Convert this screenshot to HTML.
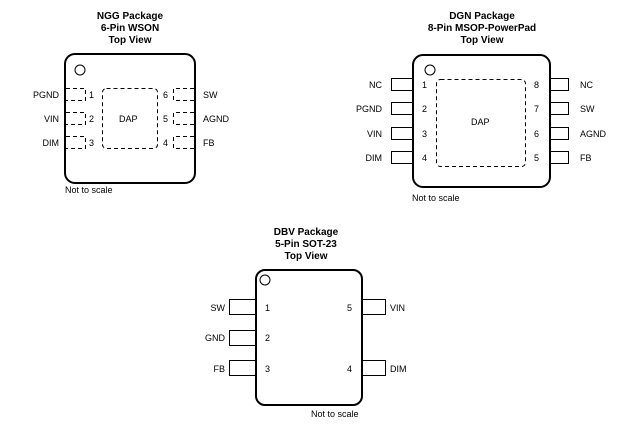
<!DOCTYPE html>
<html><head><style>
html,body{margin:0;padding:0;background:#fff;}
svg{display:block;}
text{font-family:"Liberation Sans",Arial,sans-serif;font-size:9px;fill:#000;}
.t{font-weight:bold;font-size:10px;text-anchor:middle;}
.e{text-anchor:end;}
</style></head><body>
<svg width="641" height="427" viewBox="0 0 641 427" xmlns="http://www.w3.org/2000/svg">
<!-- NGG -->
<text class="t" x="130" y="19">NGG Package</text>
<text class="t" x="130" y="31">6-Pin WSON</text>
<text class="t" x="130" y="43">Top View</text>
<rect x="65" y="54" width="130" height="129" rx="10" fill="none" stroke="#000" stroke-width="2"/>
<circle cx="80" cy="70" r="5" fill="none" stroke="#000" stroke-width="1"/>
<g fill="none" stroke="#000" stroke-width="1" stroke-dasharray="4,3">
<path d="M66 88.5H85.5V100.5H66"/>
<path d="M66 112.5H85.5V124.5H66"/>
<path d="M66 136.5H85.5V148.5H66"/>
<path d="M194 88.5H173.5V100.5H194"/>
<path d="M194 112.5H173.5V124.5H194"/>
<path d="M194 136.5H173.5V148.5H194"/>
<rect x="102.5" y="88.5" width="55" height="60" rx="4"/>
</g>
<text class="e" x="59" y="98">PGND</text>
<text class="e" x="59" y="122">VIN</text>
<text class="e" x="59" y="146">DIM</text>
<text x="89" y="98">1</text><text x="89" y="122">2</text><text x="89" y="146">3</text>
<text x="163" y="98">6</text><text x="163" y="122">5</text><text x="163" y="146">4</text>
<text x="203" y="98">SW</text><text x="203" y="122">AGND</text><text x="203" y="146">FB</text>
<text x="119" y="122">DAP</text>
<text x="65" y="193">Not to scale</text>

<!-- DGN -->
<text class="t" x="482" y="19">DGN Package</text>
<text class="t" x="482" y="31">8-Pin MSOP-PowerPad</text>
<text class="t" x="482" y="43">Top View</text>
<rect x="413" y="55" width="137" height="132" rx="10" fill="none" stroke="#000" stroke-width="2"/>
<circle cx="430" cy="70" r="5" fill="none" stroke="#000" stroke-width="1"/>
<g fill="none" stroke="#000" stroke-width="1">
<path d="M412 78.5H391.5V90.5H412"/>
<path d="M412 102.5H391.5V114.5H412"/>
<path d="M412 127.5H391.5V139.5H412"/>
<path d="M412 151.5H391.5V163.5H412"/>
<path d="M551 78.5H568.5V90.5H551"/>
<path d="M551 102.5H568.5V114.5H551"/>
<path d="M551 127.5H568.5V139.5H551"/>
<path d="M551 151.5H568.5V163.5H551"/>
<rect x="436.5" y="79.5" width="89" height="87" rx="4" stroke-dasharray="4,3"/>
</g>
<text class="e" x="382" y="88">NC</text><text class="e" x="382" y="112">PGND</text>
<text class="e" x="382" y="137">VIN</text><text class="e" x="382" y="161">DIM</text>
<text x="422" y="88">1</text><text x="422" y="112">2</text><text x="422" y="137">3</text><text x="422" y="161">4</text>
<text x="534" y="88">8</text><text x="534" y="112">7</text><text x="534" y="137">6</text><text x="534" y="161">5</text>
<text x="580" y="88">NC</text><text x="580" y="112">SW</text><text x="580" y="137">AGND</text><text x="580" y="161">FB</text>
<text x="471" y="125">DAP</text>
<text x="412" y="201">Not to scale</text>

<!-- DBV -->
<text class="t" x="306" y="235">DBV Package</text>
<text class="t" x="306" y="247">5-Pin SOT-23</text>
<text class="t" x="306" y="259">Top View</text>
<rect x="256" y="270" width="106" height="135" rx="9" fill="none" stroke="#000" stroke-width="2"/>
<circle cx="265" cy="280" r="5" fill="none" stroke="#000" stroke-width="1"/>
<g fill="none" stroke="#000" stroke-width="1">
<path d="M255 299.5H229.5V314.5H255"/>
<path d="M255 330.5H229.5V345.5H255"/>
<path d="M255 360.5H229.5V375.5H255"/>
<path d="M363 299.5H385.5V314.5H363"/>
<path d="M363 360.5H385.5V375.5H363"/>
</g>
<text class="e" x="225" y="311">SW</text><text class="e" x="225" y="341">GND</text><text class="e" x="225" y="372">FB</text>
<text x="265" y="311">1</text><text x="265" y="341">2</text><text x="265" y="372">3</text>
<text x="347" y="311">5</text><text x="347" y="372">4</text>
<text x="390" y="311">VIN</text><text x="390" y="372">DIM</text>
<text x="311" y="417">Not to scale</text>
</svg>
</body></html>
